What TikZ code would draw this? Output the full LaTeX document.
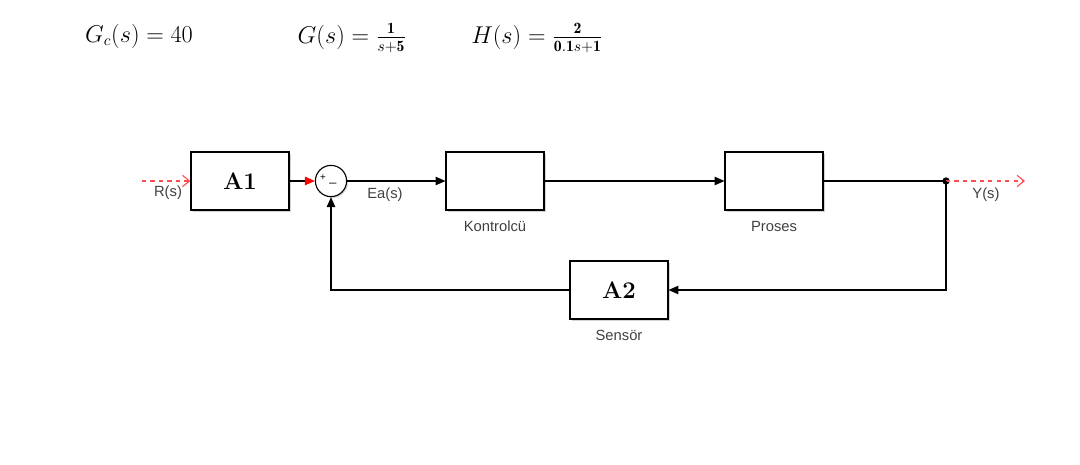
\documentclass[tikz,border=0pt]{standalone}
\usepackage{fontspec}
\setsansfont{Liberation Sans}
\usetikzlibrary{arrows.meta,shadows}
\begin{document}
\begin{tikzpicture}[x=0.025cm,y=-0.025cm,
  blk/.style={draw,line width=0.8pt,minimum width=2.45cm,minimum height=1.45cm,inner sep=0,
    drop shadow={shadow xshift=1.2pt,shadow yshift=-1.2pt,opacity=0.35}, fill=white},
  lbl/.style={font=\sffamily\fontsize{10.5}{12}\selectfont,text=black!75},
  sig/.style={line width=0.8pt,-{Triangle[length=7pt,width=6pt]}},
  red/.style={draw=red!70,dashed,line width=0.8pt}]
\useasboundingbox (0,0) rectangle (1080,465);
\node (eq1) at (139,36) {\fontsize{16}{18}\selectfont $G_c(s)=40$};
\node (eq2) at (352,38) {\fontsize{16}{18}\selectfont $G(s)=\frac{\mathbf{1}}{s\mathbf{+5}}$};
\node (eq3) at (537,38) {\fontsize{16}{18}\selectfont $H(s)=\frac{\mathbf{2}}{\mathbf{0.1}s\mathbf{+1}}$};

\node[blk] (a1) at (240,181) {\fontsize{17}{20}\selectfont\bfseries A1};
\node[draw,circle,line width=0.8pt,minimum size=0.78cm,inner sep=0,fill=white,
  drop shadow={shadow xshift=1pt,shadow yshift=-1pt,opacity=0.3}] (sum) at (331,181) {};
\node[font=\sffamily\scriptsize] (pl) at (323,178) {+};
\node[font=\sffamily\small] (mi) at (333,183) {\_};
\node[blk] (k) at (495,181) {};
\node[lbl] (kl) at (495,226) {Kontrolcü};
\node[blk] (p) at (774,181) {};
\node[lbl] (pl2) at (774,226) {Proses};
\node[blk] (a2) at (619,290) {\fontsize{17}{20}\selectfont\bfseries A2};
\node[lbl] (sl) at (619,335) {Sensör};
\fill (946,181) circle (2.6pt);
\coordinate (br) at (946,181);
\coordinate (yout) at (1025,181);
\coordinate (rin) at (142,181);
\coordinate (fb1) at (946,290);
\coordinate (fb2) at (331,290);

\draw[red,-{Straight Barb[length=5pt,width=8pt]}] (rin) -- (a1.west);
\draw[red,-{Straight Barb[length=5pt,width=8pt]}] (br) -- (yout);
\node[lbl] (rl) at (168,193) {R(s)};
\node[lbl] (yl) at (986,195) {Y(s)};
\draw[line width=0.8pt,-{Triangle[length=7pt,width=6pt,fill=red,color=red]}] (a1.east) -- (sum.west);
\draw[sig] (sum.east) -- (k.west);
\node[lbl] (el) at (385,195) {Ea(s)};
\draw[sig] (k.east) -- (p.west);
\draw[line width=0.8pt] (p.east) -- (br);
\draw[sig] (br) -- (fb1) -- (a2.east);
\draw[sig] (a2.west) -- (fb2) -- (sum.south);
\end{tikzpicture}
\end{document}
